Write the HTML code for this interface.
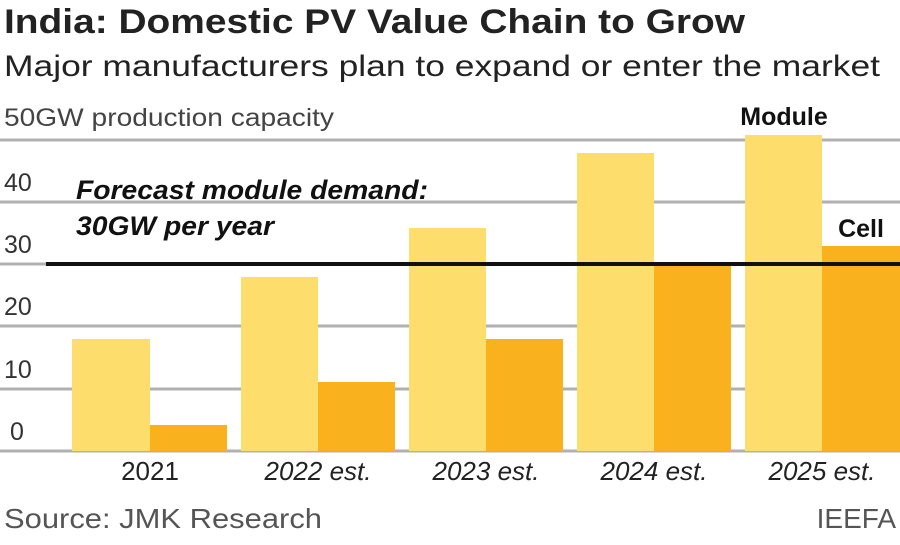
<!DOCTYPE html>
<html><head><style>
body{margin:0;width:900px;height:540px;background:#fff;overflow:hidden;font-family:"Liberation Sans",sans-serif;}
</style></head><body>
<svg width="900" height="540" xmlns="http://www.w3.org/2000/svg" font-family="Liberation Sans, sans-serif">
<text x="4" y="33" font-size="34" font-weight="bold" fill="#222" textLength="741" lengthAdjust="spacingAndGlyphs">India: Domestic PV Value Chain to Grow</text>
<text x="4" y="76" font-size="30" fill="#222" textLength="876" lengthAdjust="spacingAndGlyphs">Major manufacturers plan to expand or enter the market</text>
<text x="4" y="126" font-size="25" fill="#444" textLength="330" lengthAdjust="spacingAndGlyphs">50GW production capacity</text>
<g stroke="#b0b0b0" stroke-width="3">
<line x1="0" y1="140" x2="900" y2="140"/><line x1="0" y1="202" x2="900" y2="202"/>
<line x1="0" y1="264" x2="900" y2="264"/><line x1="0" y1="326" x2="900" y2="326"/>
<line x1="0" y1="389" x2="900" y2="389"/><line x1="0" y1="451" x2="900" y2="451"/>
</g>
<g font-size="25" fill="#333">
<text x="4" y="191">40</text><text x="4" y="253">30</text><text x="4" y="315">20</text>
<text x="4" y="378">10</text><text x="10" y="440">0</text>
</g>
<g fill="#FDDE6C">
<rect x="72" y="339" width="78" height="112"/><rect x="241" y="277" width="77" height="174"/>
<rect x="409" y="228" width="77" height="223"/><rect x="577" y="153" width="77" height="298"/>
<rect x="745" y="135" width="77" height="316"/>
</g>
<g fill="#F9B21E">
<rect x="150" y="425" width="77" height="26"/><rect x="318" y="382" width="77" height="69"/>
<rect x="486" y="339" width="77" height="112"/><rect x="654" y="264" width="77" height="187"/>
<rect x="822" y="246" width="78" height="205"/>
</g>
<line x1="46" y1="264" x2="900" y2="264" stroke="#111" stroke-width="4"/>
<text x="76" y="199" font-size="27" font-weight="bold" font-style="italic" fill="#111" textLength="352" lengthAdjust="spacingAndGlyphs">Forecast module demand:</text>
<text x="76" y="235" font-size="27" font-weight="bold" font-style="italic" fill="#111" textLength="198" lengthAdjust="spacingAndGlyphs">30GW per year</text>
<text x="784" y="125" font-size="25" font-weight="bold" fill="#111" text-anchor="middle">Module</text>
<text x="861" y="237" font-size="25" font-weight="bold" fill="#111" text-anchor="middle">Cell</text>
<g font-size="26" fill="#222" text-anchor="middle">
<text x="150" y="480">2021</text>
<text x="318" y="480" font-style="italic">2022 est.</text>
<text x="486" y="480" font-style="italic">2023 est.</text>
<text x="654" y="480" font-style="italic">2024 est.</text>
<text x="822" y="480" font-style="italic">2025 est.</text>
</g>
<text x="4" y="528" font-size="28" fill="#555" textLength="318" lengthAdjust="spacingAndGlyphs">Source:  JMK Research</text>
<text x="896" y="528" font-size="28" fill="#555" text-anchor="end">IEEFA</text>
</svg>
</body></html>
